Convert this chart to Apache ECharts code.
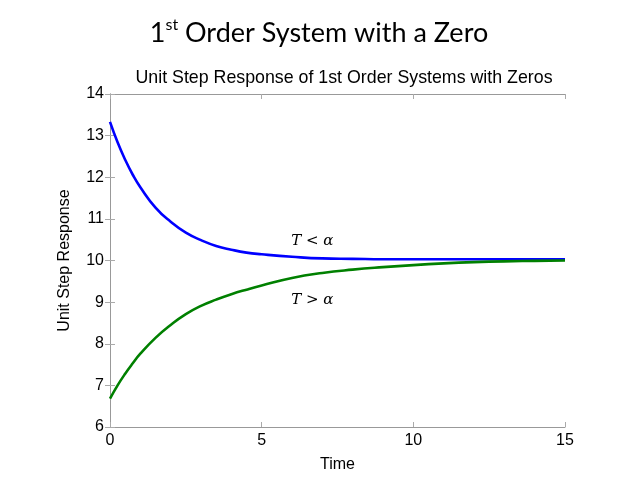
<!DOCTYPE html>
<html><head><meta charset="utf-8">
<script src="https://cdn.jsdelivr.net/npm/echarts@6/dist/echarts.min.js"></script>
<style>html,body{margin:0;padding:0;background:#fff}#c{width:638px;height:478px}</style>
</head><body><div id="c"></div>
<script>
var timeVals = [0,0.25,0.5,0.75,1,1.5,2,2.5,3,3.5,4,4.5,5,6,7,8,9,10,11,12,13,14,15];
var blueVals = [13.33,12.84,12.42,12.06,11.76,11.27,10.93,10.67,10.49,10.35,10.26,10.19,10.15,10.09,10.05,10.04,10.03,10.03,10.03,10.03,10.03,10.03,10.03];
var greenVals = [6.68,7.0,7.28,7.53,7.76,8.14,8.45,8.71,8.91,9.06,9.19,9.30,9.40,9.58,9.70,9.78,9.84,9.89,9.93,9.96,9.98,9.99,10.0];
var xTicks = [0,5,10,15];
var yTicks = [6,7,8,9,10,11,12,13,14];
var labelLess = 'T < \u03B1';
var labelMore = 'T > \u03B1';

function pairs(xs, ys){ return xs.map(function(x,i){return [x, ys[i]];}); }

var chart = echarts.init(document.getElementById('c'), null, {renderer:'canvas'});
var axisLineStyle = {color:'#999', width:1};
var tickStyle = {inside:true, length:5, lineStyle:{color:'#aaa'}};
var lblFont = {color:'#000', fontFamily:'Liberation Sans, Arial', fontSize:16};
chart.setOption({
  animation:false,
  backgroundColor:'#fff',
  title:[{
    text:'{a|1}{b|st}{a| Order System with a Zero}',
    left:'center', top:12,
    textStyle:{fontWeight:'normal', rich:{
      a:{fontFamily:'Lato', fontWeight:'normal', fontSize:27, color:'#000', lineHeight:30, verticalAlign:'bottom'},
      b:{fontFamily:'Lato', fontWeight:'normal', fontSize:16, color:'#000', lineHeight:30, verticalAlign:'top', padding:[0,0,12,0]}
    }}
  },{
    text:'Unit Step Response of 1st Order Systems with Zeros',
    left:339, textAlign:'center', top:64,
    textStyle:{fontFamily:'Liberation Sans, Arial', fontSize:17.8, fontWeight:'normal', color:'#000'}
  }],
  grid:{left:110, right:73, top:94, bottom:50},
  xAxis:[{
    type:'value', min:0, max:15, interval:5, position:'bottom',
    name:'Time', nameLocation:'middle', nameGap:30,
    nameTextStyle:{color:'#000', fontFamily:'Liberation Sans, Arial', fontSize:16},
    axisLine:{show:true, lineStyle:axisLineStyle}, axisTick:tickStyle,
    axisLabel:Object.assign({margin:6, formatter:function(v){return xTicks.indexOf(v)>=0?String(v):'';}}, lblFont),
    splitLine:{show:false}
  },{
    type:'value', min:0, max:15, interval:5, position:'top',
    axisLine:{show:true, lineStyle:axisLineStyle}, axisTick:tickStyle,
    axisLabel:{show:false}, splitLine:{show:false}
  }],
  yAxis:[{
    type:'value', min:6, max:14, interval:1, position:'left',
    name:'Unit Step Response', nameLocation:'middle', nameGap:37, nameRotate:90,
    nameTextStyle:{color:'#000', fontFamily:'Liberation Sans, Arial', fontSize:16},
    axisLine:{show:true, lineStyle:axisLineStyle}, axisTick:tickStyle,
    axisLabel:Object.assign({margin:6, formatter:function(v){return yTicks.indexOf(v)>=0?String(v):'';}}, lblFont),
    splitLine:{show:false}
  },{
    type:'value', min:6, max:14, interval:1, position:'right',
    axisLine:{show:true, lineStyle:axisLineStyle}, axisTick:tickStyle,
    axisLabel:{show:false}, splitLine:{show:false}
  }],
  series:[{
    type:'line', data:pairs(timeVals, blueVals), smooth:0.5, showSymbol:false,
    lineStyle:{color:'#0000ff', width:2.6}, itemStyle:{color:'#0000ff'},
    markPoint:{symbol:'circle', symbolSize:0, silent:true, data:[{coord:[6.67,10.46], label:{show:true, position:'inside', formatter:labelLess, color:'#000', fontFamily:'DejaVu Serif', fontStyle:'italic', fontSize:15}}]}
  },{
    type:'line', data:pairs(timeVals, greenVals), smooth:0.5, showSymbol:false,
    lineStyle:{color:'#008000', width:2.6}, itemStyle:{color:'#008000'},
    markPoint:{symbol:'circle', symbolSize:0, silent:true, data:[{coord:[6.67,9.04], label:{show:true, position:'inside', formatter:labelMore, color:'#000', fontFamily:'DejaVu Serif', fontStyle:'italic', fontSize:15}}]}
  }]
});
</script></body></html>
